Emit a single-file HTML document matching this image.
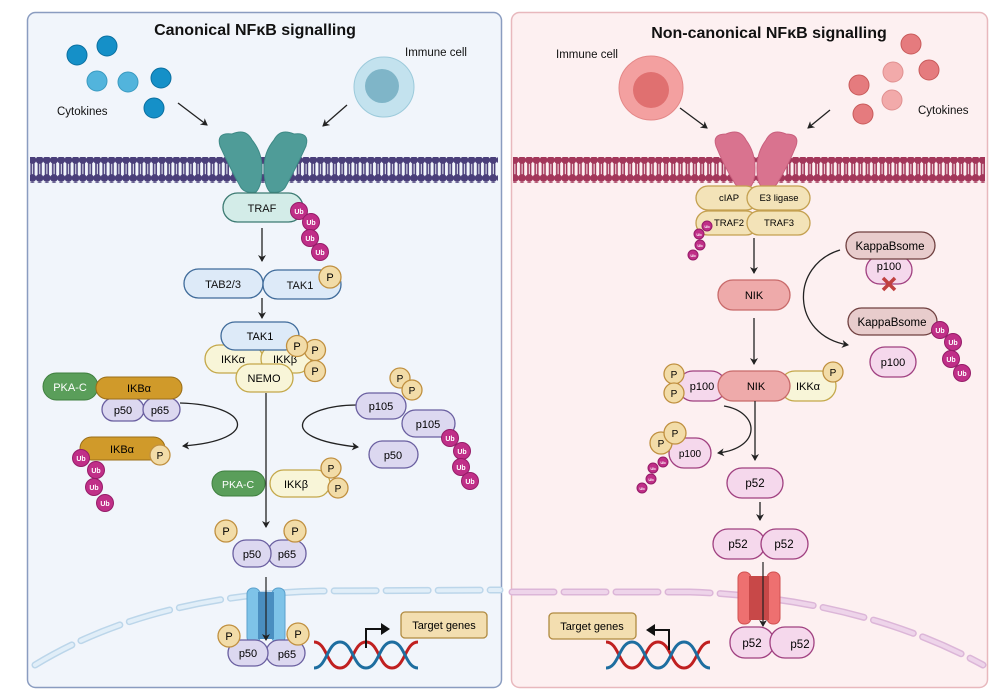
<!DOCTYPE html>
<html><head><meta charset="utf-8"><style>
html,body{margin:0;padding:0;background:#fff;width:1000px;height:700px;overflow:hidden}
svg text{font-family:"Liberation Sans",sans-serif;}
</style></head><body>
<svg width="1000" height="700" viewBox="0 0 1000 700" xmlns="http://www.w3.org/2000/svg">
<defs>
<marker id="ah" markerWidth="8" markerHeight="8" refX="6" refY="4" orient="auto" markerUnits="userSpaceOnUse">
<path d="M0,0 L7,4 L0,8 L2,4 z" fill="#222"/></marker>
<pattern id="memL" width="7.2" height="26" patternUnits="userSpaceOnUse">
<circle cx="3.6" cy="4" r="3.9" fill="#4a3f7a"/><circle cx="3.6" cy="22" r="3.9" fill="#4a3f7a"/>
<rect x="1.6" y="6" width="1.6" height="14" fill="#4a3f7a"/><rect x="4.2" y="6" width="1.6" height="14" fill="#4a3f7a"/>
</pattern>
<pattern id="memR" width="7.2" height="26" patternUnits="userSpaceOnUse">
<circle cx="3.6" cy="4" r="3.9" fill="#a3375a"/><circle cx="3.6" cy="22" r="3.9" fill="#a3375a"/>
<rect x="1.6" y="6" width="1.6" height="14" fill="#a3375a"/><rect x="4.2" y="6" width="1.6" height="14" fill="#a3375a"/>
</pattern>
</defs>

<rect x="27.5" y="12.5" width="474" height="675" rx="8" fill="#f1f5fb" stroke="#8a9cc0" stroke-width="1.5"/>
<rect x="511.5" y="12.5" width="476" height="675" rx="8" fill="#fdf0f1" stroke="#e8b8bd" stroke-width="1.5"/>

<path d="M35,665 Q150,595 320,591 L500,590" fill="none" stroke="#bcd6ea" stroke-width="7" stroke-dasharray="42,10" stroke-linecap="round"/>
<path d="M35,665 Q150,595 320,591 L500,590" fill="none" stroke="#e1eef8" stroke-width="4" stroke-dasharray="42,10" stroke-linecap="round"/>
<path d="M512,592 L690,592 Q860,598 983,665" fill="none" stroke="#dcb6d8" stroke-width="7" stroke-dasharray="42,10" stroke-linecap="round"/>
<path d="M512,592 L690,592 Q860,598 983,665" fill="none" stroke="#eed4ea" stroke-width="4" stroke-dasharray="42,10" stroke-linecap="round"/>

<text x="255" y="35" text-anchor="middle" font-size="16" font-weight="bold" fill="#111">Canonical NFκB signalling</text>
<text x="769" y="38" text-anchor="middle" font-size="16" font-weight="bold" fill="#111">Non-canonical NFκB signalling</text>

<rect x="30" y="157" width="468" height="26" fill="url(#memL)"/>
<rect x="513" y="157" width="472" height="26" fill="url(#memR)"/>

<g stroke="#0a6fa0" stroke-width="1">
<circle cx="77" cy="55" r="10" fill="#1590c8"/><circle cx="107" cy="46" r="10" fill="#1590c8"/>
<circle cx="97" cy="81" r="10" fill="#52b4dc" stroke="#3a9ac0"/><circle cx="128" cy="82" r="10" fill="#52b4dc" stroke="#3a9ac0"/>
<circle cx="161" cy="78" r="10" fill="#1590c8"/><circle cx="154" cy="108" r="10" fill="#1590c8"/>
</g>
<text x="57" y="115" font-size="11.5" fill="#111">Cytokines</text>
<circle cx="384" cy="87" r="30" fill="#c3e2ee" stroke="#9ccadb"/>
<circle cx="382" cy="86" r="17" fill="#7fb5c8"/>
<text x="405" y="56" font-size="11.5" fill="#111">Immune cell</text>
<line x1="178" y1="103" x2="207" y2="125" stroke="#222" stroke-width="1.3" marker-end="url(#ah)"/>
<line x1="347" y1="105" x2="323" y2="126" stroke="#222" stroke-width="1.3" marker-end="url(#ah)"/>

<g fill="#4f9c98" stroke="#3e8a86">
<path d="M220,146 Q216,132 232,134 Q246,128 252,140 Q262,152 262,168 Q262,186 256,192 Q244,194 240,186 Q230,168 220,146z"/>
<path d="M306,146 Q310,132 294,134 Q280,128 274,140 Q264,152 264,168 Q264,186 270,192 Q282,194 286,186 Q296,168 306,146z"/>
</g>

<g stroke="#c85a5a">
<circle cx="911" cy="44" r="10" fill="#e57b7e"/><circle cx="893" cy="72" r="10" fill="#f2aaaa" stroke="#e09090"/>
<circle cx="929" cy="70" r="10" fill="#e57b7e"/><circle cx="859" cy="85" r="10" fill="#e57b7e"/>
<circle cx="892" cy="100" r="10" fill="#f2aaaa" stroke="#e09090"/><circle cx="863" cy="114" r="10" fill="#e57b7e"/>
</g>
<text x="918" y="114" font-size="11.5" fill="#111">Cytokines</text>
<circle cx="651" cy="88" r="32" fill="#f3a0a0" stroke="#e48888"/>
<circle cx="651" cy="90" r="18" fill="#e07070"/>
<text x="556" y="58" font-size="11.5" fill="#111">Immune cell</text>
<line x1="680" y1="108" x2="707" y2="128" stroke="#222" stroke-width="1.3" marker-end="url(#ah)"/>
<line x1="830" y1="110" x2="808" y2="128" stroke="#222" stroke-width="1.3" marker-end="url(#ah)"/>
<g fill="#d9738f" stroke="#c9607e">
<path d="M716,146 Q712,134 726,134 Q740,128 746,140 Q755,152 755,168 Q755,184 749,188 Q738,190 734,182 Q724,166 716,146z"/>
<path d="M796,146 Q800,134 786,134 Q772,128 766,140 Q757,152 757,168 Q757,184 763,188 Q774,190 778,182 Q788,166 796,146z"/>
</g>

<rect x="223" y="193" width="80" height="29" rx="14.5" fill="#d3ece8" stroke="#3c7a72" stroke-width="1.3"/>
<text x="262" y="212" text-anchor="middle" font-size="11" fill="#111">TRAF</text>
<g fill="#c02f88" stroke="#951c68"><circle cx="299" cy="211" r="8.5"/><circle cx="311" cy="222" r="8.5"/><circle cx="310" cy="238" r="8.5"/><circle cx="320" cy="252" r="8.5"/></g>
<g font-size="7" font-weight="bold" fill="#fff" text-anchor="middle"><text x="299" y="214">Ub</text><text x="311" y="225">Ub</text><text x="310" y="241">Ub</text><text x="320" y="255">Ub</text></g>
<line x1="262" y1="228" x2="262" y2="261" stroke="#222" stroke-width="1.3" marker-end="url(#ah)"/>

<rect x="184" y="269" width="79" height="29" rx="14.5" fill="#ddeaf8" stroke="#3f6b9a" stroke-width="1.3"/>
<rect x="263" y="270" width="78" height="29" rx="14.5" fill="#ddeaf8" stroke="#3f6b9a" stroke-width="1.3"/>
<text x="223" y="288" text-anchor="middle" font-size="11" fill="#111">TAB2/3</text>
<text x="300" y="289" text-anchor="middle" font-size="11" fill="#111">TAK1</text>
<circle cx="330" cy="277" r="11" fill="#f2dca8" stroke="#c09040" stroke-width="1.3"/><text x="330" y="281" text-anchor="middle" font-size="11">P</text>
<line x1="262" y1="298" x2="262" y2="318" stroke="#222" stroke-width="1.3" marker-end="url(#ah)"/>

<rect x="205" y="345" width="58" height="28" rx="14" fill="#f8f5d8" stroke="#c4a84a" stroke-width="1.3"/>
<rect x="261" y="345" width="50" height="28" rx="14" fill="#f8f5d8" stroke="#c4a84a" stroke-width="1.3"/>
<text x="233" y="363" text-anchor="middle" font-size="11">IKKα</text>
<text x="285" y="363" text-anchor="middle" font-size="11">IKKβ</text>
<rect x="221" y="322" width="78" height="28" rx="14" fill="#ddeaf8" stroke="#3f6b9a" stroke-width="1.3"/>
<text x="260" y="340" text-anchor="middle" font-size="11">TAK1</text>
<rect x="236" y="364" width="57" height="28" rx="14" fill="#f8f5d8" stroke="#c4a84a" stroke-width="1.3"/>
<text x="264" y="382" text-anchor="middle" font-size="11">NEMO</text>
<g fill="#f2dca8" stroke="#c09040" stroke-width="1.3"><circle cx="315" cy="350" r="10.5"/><circle cx="297" cy="346" r="10.5"/><circle cx="315" cy="371" r="10.5"/></g>
<g font-size="11" text-anchor="middle"><text x="315" y="354">P</text><text x="297" y="350">P</text><text x="315" y="375">P</text></g>

<rect x="43" y="373" width="55" height="27" rx="13.5" fill="#5a9e5a" stroke="#3f7f3f"/>
<text x="70" y="391" text-anchor="middle" font-size="11" fill="#fff">PKA-C</text>
<rect x="102" y="398" width="42" height="23" rx="11.5" fill="#dcd8f0" stroke="#6a5fa0" stroke-width="1.3"/>
<rect x="143" y="398" width="37" height="23" rx="11.5" fill="#dcd8f0" stroke="#6a5fa0" stroke-width="1.3"/>
<text x="123" y="414" text-anchor="middle" font-size="11">p50</text><text x="160" y="414" text-anchor="middle" font-size="11">p65</text>
<rect x="96" y="377" width="86" height="22" rx="11" fill="#d09a2a" stroke="#9a6e18"/>
<text x="139" y="392" text-anchor="middle" font-size="11">IKBα</text>
<path d="M180,403 C250,405 262,440 183,446" fill="none" stroke="#222" stroke-width="1.3" marker-end="url(#ah)"/>

<rect x="80" y="437" width="85" height="23" rx="11.5" fill="#d09a2a" stroke="#9a6e18"/>
<text x="122" y="453" text-anchor="middle" font-size="11">IKBα</text>
<circle cx="160" cy="455" r="10" fill="#f2dca8" stroke="#c09040" stroke-width="1.3"/><text x="160" y="459" text-anchor="middle" font-size="10">P</text>
<g fill="#c02f88" stroke="#951c68"><circle cx="81" cy="458" r="8.5"/><circle cx="96" cy="470" r="8.5"/><circle cx="94" cy="487" r="8.5"/><circle cx="105" cy="503" r="8.5"/></g>
<g font-size="7" font-weight="bold" fill="#fff" text-anchor="middle"><text x="81" y="461">Ub</text><text x="96" y="473">Ub</text><text x="94" y="490">Ub</text><text x="105" y="506">Ub</text></g>

<line x1="266" y1="393" x2="266" y2="527" stroke="#222" stroke-width="1.3" marker-end="url(#ah)"/>
<path d="M356,405 C300,405 270,438 358,447" fill="none" stroke="#222" stroke-width="1.3" marker-end="url(#ah)"/>

<rect x="402" y="410" width="53" height="27" rx="13.5" fill="#dcd8f0" stroke="#6a5fa0" stroke-width="1.3"/>
<text x="428" y="428" text-anchor="middle" font-size="11">p105</text>
<rect x="356" y="393" width="50" height="26" rx="13" fill="#dcd8f0" stroke="#6a5fa0" stroke-width="1.3"/>
<text x="381" y="410" text-anchor="middle" font-size="11">p105</text>
<g fill="#f2dca8" stroke="#c09040" stroke-width="1.3"><circle cx="400" cy="378" r="10"/><circle cx="412" cy="390" r="10"/></g>
<g font-size="10" text-anchor="middle"><text x="400" y="382">P</text><text x="412" y="394">P</text></g>
<g fill="#c02f88" stroke="#951c68"><circle cx="450" cy="438" r="8.5"/><circle cx="462" cy="451" r="8.5"/><circle cx="461" cy="467" r="8.5"/><circle cx="470" cy="481" r="8.5"/></g>
<g font-size="7" font-weight="bold" fill="#fff" text-anchor="middle"><text x="450" y="441">Ub</text><text x="462" y="454">Ub</text><text x="461" y="470">Ub</text><text x="470" y="484">Ub</text></g>
<rect x="369" y="441" width="49" height="27" rx="13.5" fill="#dcd8f0" stroke="#6a5fa0" stroke-width="1.3"/>
<text x="393" y="459" text-anchor="middle" font-size="11">p50</text>

<rect x="212" y="471" width="53" height="25" rx="12.5" fill="#5a9e5a" stroke="#3f7f3f"/>
<text x="238" y="488" text-anchor="middle" font-size="10.5" fill="#fff">PKA-C</text>
<rect x="270" y="470" width="60" height="27" rx="13.5" fill="#f8f5d8" stroke="#c4a84a" stroke-width="1.3"/>
<text x="296" y="488" text-anchor="middle" font-size="11">IKKβ</text>
<g fill="#f2dca8" stroke="#c09040" stroke-width="1.3"><circle cx="338" cy="488" r="10"/><circle cx="331" cy="468" r="10"/></g>
<g font-size="10" text-anchor="middle"><text x="338" y="492">P</text><text x="331" y="472">P</text></g>

<rect x="268" y="540" width="38" height="27" rx="13" fill="#dcd8f0" stroke="#6a5fa0" stroke-width="1.3"/>
<rect x="233" y="540" width="38" height="27" rx="13" fill="#dcd8f0" stroke="#6a5fa0" stroke-width="1.3"/>
<text x="252" y="558" text-anchor="middle" font-size="11">p50</text><text x="287" y="558" text-anchor="middle" font-size="11">p65</text>
<g fill="#f2dca8" stroke="#c09040" stroke-width="1.3"><circle cx="226" cy="531" r="11"/><circle cx="295" cy="531" r="11"/></g>
<g font-size="11" text-anchor="middle"><text x="226" y="535">P</text><text x="295" y="535">P</text></g>

<rect x="247" y="588" width="13" height="55" rx="6" fill="#7ec3e8" stroke="#5aa0cc"/>
<rect x="272" y="588" width="13" height="55" rx="6" fill="#7ec3e8" stroke="#5aa0cc"/>
<rect x="258" y="592" width="16" height="47" fill="#4a8ec0"/>
<line x1="266" y1="577" x2="266" y2="640" stroke="#222" stroke-width="1.2" marker-end="url(#ah)"/>
<rect x="266" y="640" width="39" height="26" rx="13" fill="#dcd8f0" stroke="#6a5fa0" stroke-width="1.3"/>
<rect x="228" y="640" width="40" height="26" rx="13" fill="#dcd8f0" stroke="#6a5fa0" stroke-width="1.3"/>
<text x="248" y="657" text-anchor="middle" font-size="11">p50</text><text x="287" y="658" text-anchor="middle" font-size="11">p65</text>
<g fill="#f2dca8" stroke="#c09040" stroke-width="1.3"><circle cx="229" cy="636" r="11"/><circle cx="298" cy="634" r="11"/></g>
<g font-size="11" text-anchor="middle"><text x="229" y="640">P</text><text x="298" y="638">P</text></g>

<g fill="none" stroke-width="3">
<path d="M314,642 C327,642 327,668 340,668 C353,668 353,642 366,642 C379,642 379,668 392,668 C405,668 405,642 418,642" stroke="#c02020"/>
<path d="M314,668 C327,668 327,642 340,642 C353,642 353,668 366,668 C379,668 379,642 392,642 C405,642 405,668 418,668" stroke="#1e6ea0"/>
</g>
<path d="M366,648 V629 H382" fill="none" stroke="#111" stroke-width="2"/><path d="M381,623 L390,629 L381,635z" fill="#111"/>
<rect x="401" y="612" width="86" height="26" rx="4" fill="#f3deb0" stroke="#b08a40" stroke-width="1.3"/>
<text x="444" y="629" text-anchor="middle" font-size="11">Target genes</text>

<g stroke="#c4a050" stroke-width="1.3" fill="#f3e3b8">
<rect x="696" y="186" width="62" height="24" rx="12"/><rect x="747" y="186" width="63" height="24" rx="12"/>
<rect x="696" y="211" width="62" height="24" rx="12"/><rect x="747" y="211" width="63" height="24" rx="12"/>
</g>
<g font-size="9.5" text-anchor="middle"><text x="729" y="201">cIAP</text><text x="779" y="201">E3 ligase</text><text x="729" y="226">TRAF2</text><text x="779" y="226">TRAF3</text></g>
<g fill="#c02f88" stroke="#951c68"><circle cx="707" cy="226" r="5"/><circle cx="699" cy="234" r="5"/><circle cx="700" cy="245" r="5"/><circle cx="693" cy="255" r="5"/></g>
<g font-size="4" font-weight="bold" fill="#fff" text-anchor="middle"><text x="707" y="228">Ub</text><text x="699" y="236">Ub</text><text x="700" y="247">Ub</text><text x="693" y="257">Ub</text></g>
<line x1="754" y1="238" x2="754" y2="273" stroke="#222" stroke-width="1.3" marker-end="url(#ah)"/>
<rect x="718" y="280" width="72" height="30" rx="15" fill="#eeaaaa" stroke="#c86a6a" stroke-width="1.3"/>
<text x="754" y="299" text-anchor="middle" font-size="11">NIK</text>
<line x1="754" y1="318" x2="754" y2="364" stroke="#222" stroke-width="1.3" marker-end="url(#ah)"/>

<rect x="780" y="371" width="56" height="30" rx="15" fill="#f8f5d8" stroke="#c4a84a" stroke-width="1.3"/>
<text x="808" y="390" text-anchor="middle" font-size="11">IKKα</text>
<rect x="678" y="371" width="48" height="30" rx="15" fill="#f5d8ec" stroke="#a04080" stroke-width="1.3"/>
<text x="702" y="390" text-anchor="middle" font-size="11">p100</text>
<rect x="718" y="371" width="72" height="30" rx="15" fill="#eeaaaa" stroke="#c86a6a" stroke-width="1.3"/>
<text x="756" y="390" text-anchor="middle" font-size="11">NIK</text>
<g fill="#f2dca8" stroke="#c09040" stroke-width="1.3"><circle cx="674" cy="374" r="10"/><circle cx="674" cy="393" r="10"/><circle cx="833" cy="372" r="10"/></g>
<g font-size="10" text-anchor="middle"><text x="674" y="378">P</text><text x="674" y="397">P</text><text x="833" y="376">P</text></g>

<rect x="866" y="256" width="46" height="28" rx="14" fill="#f5d8ec" stroke="#a04080" stroke-width="1.3"/>
<text x="889" y="270" text-anchor="middle" font-size="11">p100</text>
<rect x="846" y="232" width="89" height="27" rx="13.5" fill="#e8cccc" stroke="#704040" stroke-width="1.3"/>
<text x="890" y="250" text-anchor="middle" font-size="11.5">KappaBsome</text>
<path d="M883,278 L895,290 M895,278 L883,290" stroke="#c04040" stroke-width="3.5"/>
<path d="M840,250 C790,265 790,335 848,345" fill="none" stroke="#222" stroke-width="1.3" marker-end="url(#ah)"/>
<rect x="848" y="308" width="89" height="27" rx="13.5" fill="#e8cccc" stroke="#704040" stroke-width="1.3"/>
<text x="892" y="326" text-anchor="middle" font-size="11.5">KappaBsome</text>
<g fill="#c02f88" stroke="#951c68"><circle cx="940" cy="330" r="8.5"/><circle cx="953" cy="342" r="8.5"/><circle cx="951" cy="359" r="8.5"/><circle cx="962" cy="373" r="8.5"/></g>
<g font-size="7" font-weight="bold" fill="#fff" text-anchor="middle"><text x="940" y="333">Ub</text><text x="953" y="345">Ub</text><text x="951" y="362">Ub</text><text x="962" y="376">Ub</text></g>
<rect x="870" y="347" width="46" height="30" rx="15" fill="#f5d8ec" stroke="#a04080" stroke-width="1.3"/>
<text x="893" y="366" text-anchor="middle" font-size="11">p100</text>

<line x1="755" y1="401" x2="755" y2="460" stroke="#222" stroke-width="1.3" marker-end="url(#ah)"/>
<path d="M724,406 C760,412 762,448 718,453" fill="none" stroke="#222" stroke-width="1.3" marker-end="url(#ah)"/>
<rect x="669" y="438" width="42" height="30" rx="15" fill="#f5d8ec" stroke="#a04080" stroke-width="1.3"/>
<text x="690" y="457" text-anchor="middle" font-size="10">p100</text>
<g fill="#f2dca8" stroke="#c09040" stroke-width="1.3"><circle cx="661" cy="443" r="11"/><circle cx="675" cy="433" r="11"/></g>
<g font-size="10" text-anchor="middle"><text x="661" y="447">P</text><text x="675" y="437">P</text></g>
<g fill="#c02f88" stroke="#951c68"><circle cx="663" cy="462" r="5"/><circle cx="653" cy="468" r="5"/><circle cx="651" cy="479" r="5"/><circle cx="642" cy="488" r="5"/></g>
<g font-size="4" font-weight="bold" fill="#fff" text-anchor="middle"><text x="663" y="464">Ub</text><text x="653" y="470">Ub</text><text x="651" y="481">Ub</text><text x="642" y="490">Ub</text></g>

<rect x="727" y="468" width="56" height="30" rx="15" fill="#f5d8ec" stroke="#a04080" stroke-width="1.3"/>
<text x="755" y="487" text-anchor="middle" font-size="11.5">p52</text>
<line x1="760" y1="502" x2="760" y2="520" stroke="#222" stroke-width="1.3" marker-end="url(#ah)"/>
<rect x="713" y="529" width="52" height="30" rx="15" fill="#f5d8ec" stroke="#a04080" stroke-width="1.3"/>
<rect x="761" y="529" width="47" height="30" rx="15" fill="#f5d8ec" stroke="#a04080" stroke-width="1.3"/>
<text x="738" y="548" text-anchor="middle" font-size="11.5">p52</text><text x="784" y="548" text-anchor="middle" font-size="11.5">p52</text>

<rect x="738" y="572" width="13" height="52" rx="6" fill="#ee7070" stroke="#d05050"/>
<rect x="767" y="572" width="13" height="52" rx="6" fill="#ee7070" stroke="#d05050"/>
<rect x="749" y="576" width="20" height="44" fill="#c84848"/>
<line x1="763" y1="562" x2="763" y2="626" stroke="#222" stroke-width="1.2" marker-end="url(#ah)"/>
<rect x="730" y="627" width="44" height="31" rx="15" fill="#f5d8ec" stroke="#a04080" stroke-width="1.3"/>
<rect x="770" y="627" width="44" height="31" rx="15" fill="#f5d8ec" stroke="#a04080" stroke-width="1.3"/>
<text x="752" y="647" text-anchor="middle" font-size="11.5">p52</text><text x="800" y="648" text-anchor="middle" font-size="11.5">p52</text>

<g fill="none" stroke-width="3">
<path d="M606,642 C619,642 619,668 632,668 C645,668 645,642 658,642 C671,642 671,668 684,668 C697,668 697,642 710,642" stroke="#c02020"/>
<path d="M606,668 C619,668 619,642 632,642 C645,642 645,668 658,668 C671,668 671,642 684,642 C697,642 697,668 710,668" stroke="#1e6ea0"/>
</g>
<path d="M669,650 V630 H654" fill="none" stroke="#111" stroke-width="2"/><path d="M655,624 L646,630 L655,636z" fill="#111"/>
<rect x="549" y="613" width="87" height="26" rx="4" fill="#f3deb0" stroke="#b08a40" stroke-width="1.3"/>
<text x="592" y="630" text-anchor="middle" font-size="11">Target genes</text>
</svg>
</body></html>
